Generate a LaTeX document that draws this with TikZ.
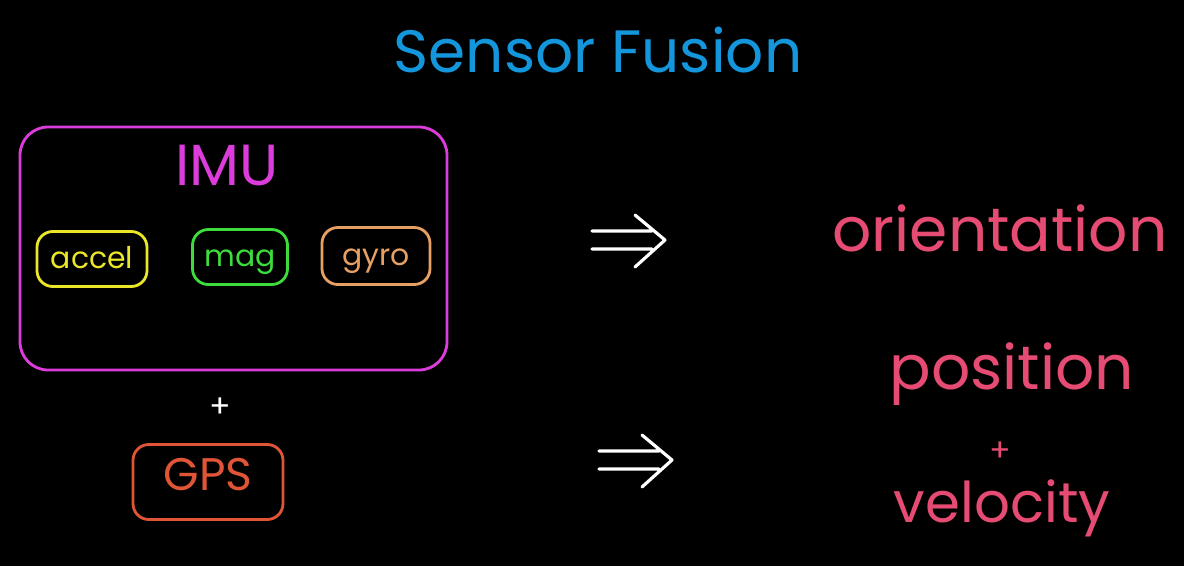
\documentclass[tikz,border=0pt]{standalone}
\usepackage{fontspec}
\setmainfont{Poppins}
\begin{document}
\begin{tikzpicture}[x=0.02cm,y=-0.02cm,
  hand/.style={line width=1.6pt,rounded corners=9pt,text height=1.05em,text depth=0em,inner sep=0pt},
  txt/.style={inner sep=0pt,anchor=center}]
\definecolor{ttl}{RGB}{20,150,220}
\definecolor{imu}{RGB}{220,60,220}
\definecolor{acc}{RGB}{235,230,40}
\definecolor{mg}{RGB}{60,220,60}
\definecolor{gy}{RGB}{230,160,100}
\definecolor{gps}{RGB}{225,85,55}
\definecolor{out}{RGB}{230,75,115}
\fill[black] (0,0) rectangle (1184,566);
\useasboundingbox (0,0) rectangle (1184,566);
\node[txt,text=ttl,font=\fontsize{34}{36}\selectfont] (title) at (598,50) {Sensor Fusion};
\draw[line width=1.6pt,imu,rounded corners=16pt] (20,127) rectangle (447,370);
\node[txt,text=imu,font=\fontsize{33}{35}\selectfont] (imu) at (227,165) {IMU};
\node[draw=acc,hand,text=acc,font=\fontsize{17}{19}\selectfont,minimum width=110*0.02cm,minimum height=55*0.02cm] (accel) at (92,259) {accel};
\node[draw=mg,hand,text=mg,font=\fontsize{17}{19}\selectfont,minimum width=95*0.02cm,minimum height=55*0.02cm] (mag) at (240,257) {mag};
\node[draw=gy,hand,text=gy,font=\fontsize{17}{19}\selectfont,minimum width=108*0.02cm,minimum height=57*0.02cm] (gyro) at (376,256) {gyro};
\node[txt,text=white,font=\fontsize{18}{20}\selectfont] (plus) at (220,408) {+};
\node[draw=gps,hand,text=gps,font=\fontsize{26}{28}\selectfont,minimum width=150*0.02cm,minimum height=75*0.02cm,text height=1.0em] (gps) at (208,482) {GPS};
\node[txt,text=out,font=\fontsize{35}{37}\selectfont] (orient) at (1000,228) {orientation};
\node[txt,text=out,font=\fontsize{35}{37}\selectfont] (pos) at (1012,374) {position};
\node[txt,text=out,font=\fontsize{18}{20}\selectfont] (p2) at (1000,452) {+};
\node[txt,text=out,font=\fontsize{32}{34}\selectfont] (vel) at (1002,508) {velocity};
\foreach \cx/\cy in {630/240, 637/460}{
  \draw[white,line width=1.8pt,line cap=round,line join=round]
    (\cx-38,\cy-9) -- (\cx+22,\cy-9) (\cx-38,\cy+9) -- (\cx+22,\cy+9)
    (\cx+5,\cy-25) -- (\cx+35,\cy) -- (\cx+5,\cy+27);
}
\end{tikzpicture}
\end{document}
